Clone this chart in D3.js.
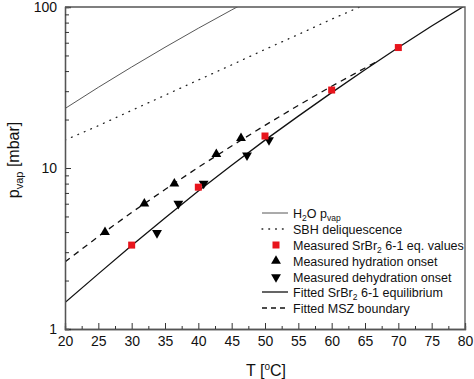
<!DOCTYPE html>
<html><head><meta charset="utf-8">
<script src="https://cdn.jsdelivr.net/npm/d3@7/dist/d3.min.js"></script>
<style>body{margin:0;background:#fff}svg{display:block;font-family:"Liberation Sans",Arial,sans-serif}</style>
</head><body><svg id="c" width="474" height="379"></svg>
<script>
// ---- data ----
const xTicks = [20,25,30,35,40,45,50,55,60,65,70,75,80];
const yTicks = [1,10,100];
const h2oT = [20,25,30,35,40,45,46];
const h2oP = [23.4,31.7,42.4,56.2,73.8,95.9,100.9];
const sbhT = [20,25,30,35,40,45,50,55,60,64.2,65];
const sbhP = [14.9,18.3,22.8,28.3,35.2,43.7,54.5,67.5,84,100,103];
const eqT = [20,25,30,35,40,45,50,55,60,65,70,75,80];
const eqP = [1.46,2.2,3.3,4.89,7.2,10.4,14.9,21.0,29.4,40.8,56,76.2,102];
const mszT = [20,25,30,35,40,45,50,55,60,65,66.5];
const mszP = [2.61,3.75,5.3,7.35,10.1,13.7,18.4,24.5,32.2,41.8,45.2];
const sqT = [30,40,50,60,70];
const sqP = [3.32,7.6,15.8,30.5,56];
const upT = [26,31.9,36.4,42.7,46.4];
const upP = [4.0,6.0,8.0,12.2,15.3];
const dnT = [33.8,37,40.8,47.3,50.6];
const dnP = [3.95,6.0,8.0,12.0,14.9];

// ---- layout ----
const svg = d3.select("#c");
const L=65,R=465,T=7,B=329;
const x = d3.scaleLinear().domain([20,80]).range([L,R]);
const y = d3.scaleLog().domain([1,100]).range([B,T]);

svg.append("clipPath").attr("id","clip").append("rect").attr("x",L).attr("y",T).attr("width",R-L).attr("height",B-T);
const g = svg.append("g").attr("clip-path","url(#clip)");

const line = d3.line().x(d=>x(d[0])).y(d=>y(d[1]));
const zip=(a,b)=>a.map((v,i)=>[v,b[i]]);

g.append("path").attr("d",line(zip(h2oT,h2oP))).attr("fill","none").attr("stroke","#444").attr("stroke-width",0.9);
g.append("path").attr("d",line(zip(sbhT,sbhP))).attr("fill","none").attr("stroke","#222").attr("stroke-width",1.3).attr("stroke-dasharray","0.8,6.2").attr("stroke-linecap","round");
g.append("path").attr("d",line(zip(eqT,eqP))).attr("fill","none").attr("stroke","#111").attr("stroke-width",1.3);
g.append("path").attr("d",line(zip(mszT,mszP))).attr("fill","none").attr("stroke","#111").attr("stroke-width",1.3).attr("stroke-dasharray","6,5");

const tri = d3.symbol().type(d3.symbolTriangle).size(42);
g.selectAll(".up").data(zip(upT,upP)).join("path").attr("d",tri)
  .attr("transform",d=>`translate(${x(d[0])},${y(d[1])})`).attr("fill","#000");
g.selectAll(".dn").data(zip(dnT,dnP)).join("path").attr("d",tri)
  .attr("transform",d=>`translate(${x(d[0])},${y(d[1])}) rotate(180)`).attr("fill","#000");
g.selectAll(".sq").data(zip(sqT,sqP)).join("rect")
  .attr("x",d=>x(d[0])-3.5).attr("y",d=>y(d[1])-3.5).attr("width",7).attr("height",7).attr("fill","#e8141c");

// ---- axes ----
const minorX = d3.range(22.5,80,5);
svg.append("g").attr("transform",`translate(0,${B})`)
  .call(d3.axisBottom(x).tickValues(xTicks).tickSize(-6).tickPadding(7).tickFormat(d3.format("d")));
svg.append("g").attr("transform",`translate(0,${B})`)
  .call(d3.axisBottom(x).tickValues(minorX).tickSize(-3).tickFormat(""));
const minorY = [2,3,4,5,6,7,8,9,20,30,40,50,60,70,80,90];
svg.append("g").attr("transform",`translate(${L},0)`)
  .call(d3.axisLeft(y).tickValues(yTicks).tickSize(-6).tickPadding(8).tickFormat(d3.format("d")));
svg.append("g").attr("transform",`translate(${L},0)`)
  .call(d3.axisLeft(y).tickValues(minorY).tickSize(-4).tickFormat(""));
svg.selectAll(".domain").attr("stroke","#555").attr("stroke-width",1.3);
svg.selectAll(".tick line").attr("stroke","#333");
svg.selectAll(".tick text").attr("font-size",14).attr("fill","#111").attr("font-family","Liberation Sans, Arial, sans-serif");
// frame top/right
svg.append("path").attr("d",`M${L},${T}H${R}V${B}`).attr("fill","none").attr("stroke","#555").attr("stroke-width",1.3);

// ---- titles ----
const xt = svg.append("text").attr("x",266).attr("y",376).attr("text-anchor","middle").attr("font-size",16).attr("fill","#111");
xt.append("tspan").text("T [");
xt.append("tspan").attr("font-size",10).attr("dy",-6).text("o");
xt.append("tspan").attr("dy",6).text("C]");
const yt = svg.append("text").attr("transform","translate(19,160) rotate(-90)").attr("text-anchor","middle").attr("font-size",16).attr("fill","#111");
yt.append("tspan").text("p");
yt.append("tspan").attr("font-size",11).attr("dy",4).text("vap");
yt.append("tspan").attr("dy",-4).text(" [mbar]");

// ---- legend ----
const lg = svg.append("g").attr("font-size",12.5).attr("fill","#111");
const rows = [213,229,245,261,277,292,308];
const lx0=262, lx1=288, tx=293, mx=276;
// parts: [text, dy, isSub]
function ltext(yy, parts){
  const t = lg.append("text").attr("x",tx).attr("y",yy+4.5);
  parts.forEach(p=>{ const s=t.append("tspan").text(p[0]); if(p[1]) s.attr("dy",p[1]); if(p[2]) s.attr("font-size",8.5); });
}
lg.append("line").attr("x1",lx0).attr("x2",lx1).attr("y1",rows[0]).attr("y2",rows[0]).attr("stroke","#444").attr("stroke-width",0.9);
ltext(rows[0],[["H"],["2",3,true],["O p",-3],["vap",3,true]]);
lg.append("line").attr("x1",lx0).attr("x2",lx1).attr("y1",rows[1]).attr("y2",rows[1]).attr("stroke","#222").attr("stroke-width",1.3).attr("stroke-dasharray","0.8,6").attr("stroke-linecap","round");
ltext(rows[1],[["SBH deliquescence"]]);
lg.append("rect").attr("x",mx-3.5).attr("y",rows[2]-3.5).attr("width",7).attr("height",7).attr("fill","#e8141c");
ltext(rows[2],[["Measured SrBr"],["2",3,true],[" 6-1 eq. values",-3]]);
lg.append("path").attr("d",tri).attr("transform",`translate(${mx},${rows[3]})`).attr("fill","#000");
ltext(rows[3],[["Measured hydration onset"]]);
lg.append("path").attr("d",tri).attr("transform",`translate(${mx},${rows[4]}) rotate(180)`).attr("fill","#000");
ltext(rows[4],[["Measured dehydration onset"]]);
lg.append("line").attr("x1",lx0).attr("x2",lx1).attr("y1",rows[5]).attr("y2",rows[5]).attr("stroke","#111").attr("stroke-width",1.3);
ltext(rows[5],[["Fitted SrBr"],["2",3,true],[" 6-1 equilibrium",-3]]);
lg.append("line").attr("x1",lx0).attr("x2",lx1).attr("y1",rows[6]).attr("y2",rows[6]).attr("stroke","#111").attr("stroke-width",1.3).attr("stroke-dasharray","5,4");
ltext(rows[6],[["Fitted MSZ boundary"]]);
</script></body></html>
